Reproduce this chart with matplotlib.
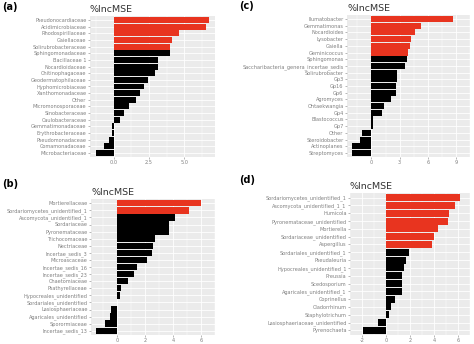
import numpy as np
import matplotlib
matplotlib.use('Agg')
import matplotlib.pyplot as plt

# Data (top to bottom as shown)
a_names = ['Pseudonocardiaceae', 'Acidimicrobiaceae', 'Rhodospirillaceae', 'Gaiellaceae',
           'Solirubrobacteraceae', 'Sphingomonadaceae', 'Bacillaceae 1', 'Nocardioidaceae',
           'Chitinophagaceae', 'Geodermatophilaceae', 'Hyphomicrobiaceae', 'Xanthomonadaceae',
           'Other', 'Micromonosporaceae', 'Sinobacteraceae', 'Caulobacteraceae',
           'Gemmatimonadaceae', 'Erythrobacteraceae', 'Pseudomonadaceae', 'Comamonadaceae',
           'Microbacteriaceae']
a_vals = [6.76, 6.5, 4.65, 4.11, 3.99, 3.96, 3.1, 3.1, 2.89, 2.46, 2.16, 1.83, 1.6,
          1.1, 0.7, 0.47, -0.1, -0.15, -0.33, -0.65, -1.27]
a_nred = 5

b_names = ['Mortierellaceae', 'Sordariomycetes_unidentified_1', 'Ascomycota_unidentified_1',
           'Sordariaceae', 'Pyronemataceae', 'Trichocomaceae', 'Nectriaceae', 'Incertae_sedis_3',
           'Microascaceae', 'Incertae_sedis_16', 'Incertae_sedis_23', 'Chaetomiaceae',
           'Psathyrellaceae', 'Hypocreales_unidentified', 'Sordariales_unidentified',
           'Lasiosphaeriaceae', 'Agaricales_unidentified', 'Sporormiaceae', 'Incertae_sedis_13']
b_vals = [6.03, 5.18, 4.17, 3.73, 3.73, 2.72, 2.57, 2.5, 2.15, 1.45, 1.23, 0.77,
          0.27, 0.2, 0.02, -0.39, -0.48, -0.87, -1.47]
b_nred = 2

c_names = ['Ilumatobacter', 'Gemmatimonas', 'Nocardioides', 'Lysobacter', 'Gaiella',
           'Geminicoccus', 'Sphingomonas', 'Saccharibacteria_genera_incertae_sedis',
           'Solirubrobacter', 'Gp3', 'Gp16', 'Gp6', 'Agromyces', 'Ohtaekwangia', 'Gp4',
           'Blastococcus', 'Gp7', 'Other', 'Steroidobacter', 'Actinoplanes', 'Streptomyces']
c_vals = [8.64, 5.29, 4.6, 4.2, 4.08, 3.9, 3.77, 3.62, 2.75, 2.75, 2.63, 2.57, 2.07,
          1.3, 1.17, 0.12, 0.15, -0.99, -1.24, -2.04, -2.07]
c_nred = 6

d_names = ['Sordariomycetes_unidentified_1', 'Ascomycota_unidentified_1_1', 'Humicola',
           'Pyronemataceae_unidentified', 'Mortierella', 'Sordariaceae_unidentified',
           'Aspergillus', 'Sordariales_unidentified_1', 'Pseudaleuria',
           'Hypocreales_unidentified_1', 'Preussia', 'Scedosporium', 'Agaricales_unidentified_1',
           'Coprinellus', 'Cladorrhinum', 'Staphylotrichum', 'Lasiosphaeriaceae_unidentified',
           'Pyrenochaeta']
d_vals = [6.17, 5.77, 5.23, 5.18, 4.3, 3.97, 3.83, 1.91, 1.63, 1.49, 1.35, 1.35, 1.35,
          0.78, 0.38, 0.24, -0.64, -1.94]
d_nred = 7

W, H = 474, 344
fig = plt.figure(figsize=(W / 100, H / 100), dpi=100)


def panel(box, names, vals, nred, ticks, tag):
    l, r, t, b = box
    ax = fig.add_axes([l / W, 1 - b / H, (r - l) / W, (b - t) / H])
    n = len(names)
    y = np.arange(n)[::-1]
    colors = ['#E8341F' if i < nred else 'black' for i in range(n)]
    ax.set_facecolor('#EBEBEB')
    ax.barh(y, vals, height=0.9, color=colors, zorder=3)
    lo, hi = min(min(vals), 0), max(max(vals), 0)
    pad = (hi - lo) * 0.05
    ax.set_xlim(lo - pad, hi + pad)
    ax.set_ylim(-0.6, n - 0.4)
    ax.set_xticks(ticks)
    ax.set_xticklabels([str(tk) for tk in ticks])
    step = ticks[1] - ticks[0]
    minor = [ticks[0] - step / 2] + [tk + step / 2 for tk in ticks]
    ax.set_xticks(minor, minor=True)
    ax.set_yticks(y)
    ax.set_yticklabels(names)
    ax.grid(True, which='major', color='white', linewidth=0.6, zorder=1)
    ax.grid(True, which='minor', axis='x', color='white', linewidth=0.3, zorder=1)
    ax.tick_params(axis='both', which='major', labelsize=3.6, colors='#808080',
                   length=1.5, width=0.4, pad=1)
    ax.tick_params(axis='x', which='minor', length=0)
    for s in ax.spines.values():
        s.set_visible(False)
    ax.set_title('%IncMSE', fontsize=6.8, color='#333333', pad=3, loc='left')
    ax.set_axisbelow(True)
    fig.text(tag[1] / W, 1 - tag[2] / H, tag[0], fontsize=7, fontweight='bold',
             ha='left', va='center')
    return ax


panel((90, 215, 16, 157), a_names, a_vals, a_nred, [0.0, 2.5, 5.0], ('(a)', 2, 7))
panel((347, 470, 15, 157), c_names, c_vals, c_nred, [0, 3, 6, 9], ('(c)', 239, 6))
panel((91, 215, 199, 335), b_names, b_vals, b_nred, [0, 2, 4, 6], ('(b)', 2, 184))
panel((350, 470, 193, 335), d_names, d_vals, d_nred, [-2, 0, 2, 4, 6], ('(d)', 239, 180))

fig.savefig('out.png', dpi=100)
